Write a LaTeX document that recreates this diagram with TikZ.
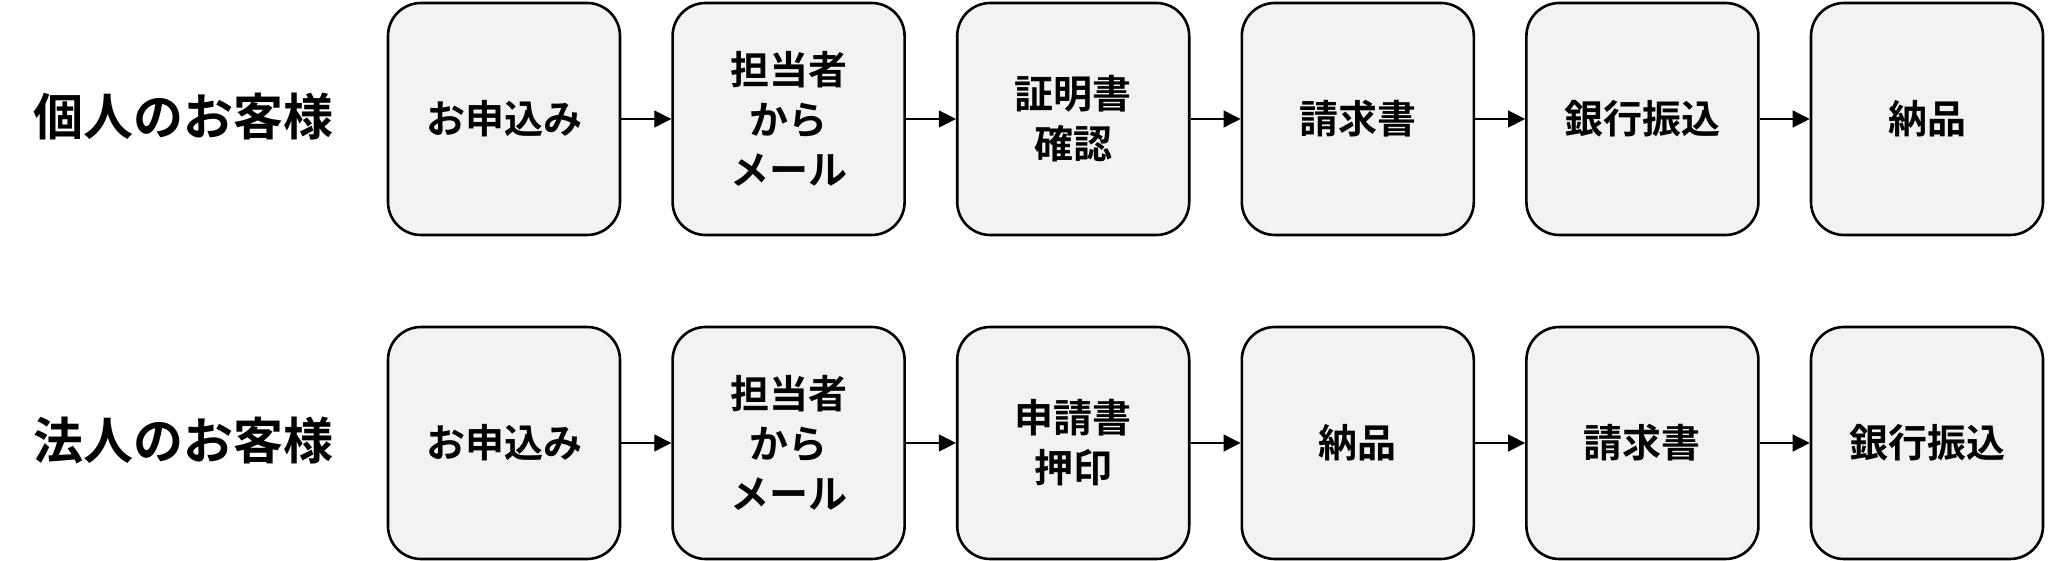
\documentclass[tikz,border=0pt]{standalone}
\usepackage{fontspec}
\newfontfamily\jpbold{Noto Sans CJK JP Bold}
\usetikzlibrary{positioning,arrows.meta}
\definecolor{boxgray}{HTML}{F2F2F2}
\tikzset{
  stepbox/.style={draw,fill=boxgray,line width=2.6pt,rounded corners=33pt,
    minimum width=232pt,minimum height=232pt,align=center,
    font=\jpbold\fontsize{39}{50}\selectfont},
  rowlabel/.style={font=\jpbold\fontsize{50}{60}\selectfont},
  flow/.style={line width=1.3pt,-{Triangle[length=17pt,width=17pt]}}
}
\begin{document}
\begin{tikzpicture}[x=1pt,y=1pt]
    \useasboundingbox (0,0) rectangle (2048,561);
    \node[rowlabel] (kojin) at (183,444) {個人のお客様};
    \node[stepbox] (a1) at (504,442) {お申込み};
    \node[stepbox,right=50pt of a1] (a2) {担当者\\から\\メール};
    \node[stepbox,right=50pt of a2] (a3) {証明書\\確認};
    \node[stepbox,right=50pt of a3] (a4) {請求書};
    \node[stepbox,right=50pt of a4] (a5) {銀行振込};
    \node[stepbox,right=50pt of a5] (a6) {納品};
    \draw[flow] (a1) -- (a2); \draw[flow] (a2) -- (a3); \draw[flow] (a3) -- (a4);
    \draw[flow] (a4) -- (a5); \draw[flow] (a5) -- (a6);
    \node[rowlabel] (houjin) at (183,120) {法人のお客様};
    \node[stepbox] (b1) at (504,118) {お申込み};
    \node[stepbox,right=50pt of b1] (b2) {担当者\\から\\メール};
    \node[stepbox,right=50pt of b2] (b3) {申請書\\押印};
    \node[stepbox,right=50pt of b3] (b4) {納品};
    \node[stepbox,right=50pt of b4] (b5) {請求書};
    \node[stepbox,right=50pt of b5] (b6) {銀行振込};
    \draw[flow] (b1) -- (b2); \draw[flow] (b2) -- (b3); \draw[flow] (b3) -- (b4);
    \draw[flow] (b4) -- (b5); \draw[flow] (b5) -- (b6);
\end{tikzpicture}
\end{document}
